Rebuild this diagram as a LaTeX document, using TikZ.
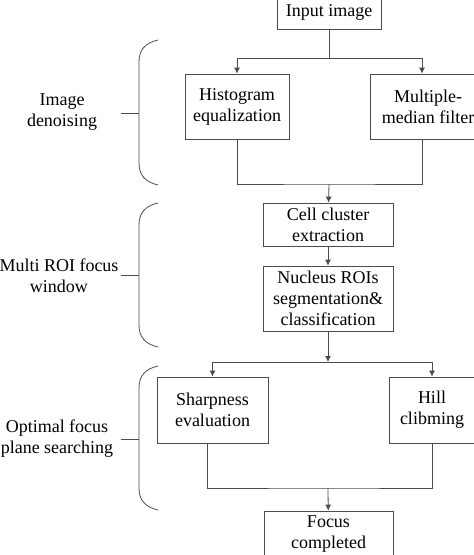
\documentclass[tikz,border=0pt]{standalone}
\usepackage{fontspec}
\setmainfont{Liberation Serif}
\usetikzlibrary{arrows.meta}
\tikzset{
	box/.style={draw=black!70, line width=0.8pt, align=center, inner sep=0pt, font=\fontsize{18}{21}\selectfont},
	lab/.style={align=center, font=\fontsize{18}{21}\selectfont},
	line/.style={draw=black!70, line width=0.8pt},
}
\begin{document}
\begin{tikzpicture}[>={Latex[length=6pt,width=6pt]}, x=1pt, y=-1pt]
	\clip (0,0) rectangle (474,555);
	\node[box, minimum width=104pt, minimum height=34pt] (input)   at (329,12)    {Input image};
	\node[box, minimum width=104pt, minimum height=65pt] (hist)    at (237,106.5) {Histogram\\equalization};
	\node[box, minimum width=116pt, minimum height=65pt] (median)  at (428,106.5) {Multiple-\\median filter};
	\node[box, minimum width=130pt, minimum height=43pt] (cell)    at (328,224.5) {Cell cluster\\extraction};
	\node[box, minimum width=130pt, minimum height=65pt] (nucleus) at (328,298.5) {Nucleus ROIs\\segmentation\&\\classification};
	\node[box, minimum width=111pt, minimum height=66pt] (sharp)   at (212.5,410) {Sharpness\\evaluation};
	\node[box, minimum width=86pt,  minimum height=66pt] (hill)    at (432,410)   {Hill\\clibming};
	\node[box, minimum width=129pt, minimum height=46pt] (focus)   at (328.5,534) {Focus\\completed};
	\node[lab] (denoise) at (62,112)  {Image\\denoising};
	\node[lab] (roi)     at (59,276)  {Multi ROI focus\\window};
	\node[lab] (search)  at (57,439)  {Optimal focus\\plane searching};
	\coordinate (a1) at (329,58);
	\coordinate (b1) at (329,184);
	\coordinate (c1) at (328,362);
	\coordinate (d1) at (328,488);
	\draw[line] (input) -- (a1);
	\draw[line,->] (a1) -| (hist.north);
	\draw[line,->] (a1) -| ([xshift=-6pt]median.north);
	\draw[line] (hist.south) |- (b1) -| ([xshift=-6pt]median.south);
	\draw[line,->] (b1) -- (cell);
	\draw[line,->] (cell) -- (nucleus);
	\draw[line,->] (nucleus) -- (c1);
	\draw[line,->] (c1) -| (sharp.north);
	\draw[line,->] (c1) -| (hill.north);
	\draw[line] ([xshift=-5pt]sharp.south) |- (d1) -| (hill.south);
	\draw[line,->] (d1) -- (focus);
	% braces
	\draw[line] (158,40) .. controls (145,43) and (139,50) .. (139,62) -- (139,163) .. controls (139,175) and (145,182) .. (158,185);
	\draw[line] (139,113) -- (121,113);
	\draw[line] (158,203) .. controls (145,206) and (139,213) .. (139,225) -- (139,325) .. controls (139,337) and (145,344) .. (158,347);
	\draw[line] (139,275) -- (121,275);
	\draw[line] (158,366) .. controls (145,369) and (139,376) .. (139,388) -- (139,488) .. controls (139,500) and (145,507) .. (158,510);
	\draw[line] (139,439) -- (121,439);
\end{tikzpicture}
\end{document}
